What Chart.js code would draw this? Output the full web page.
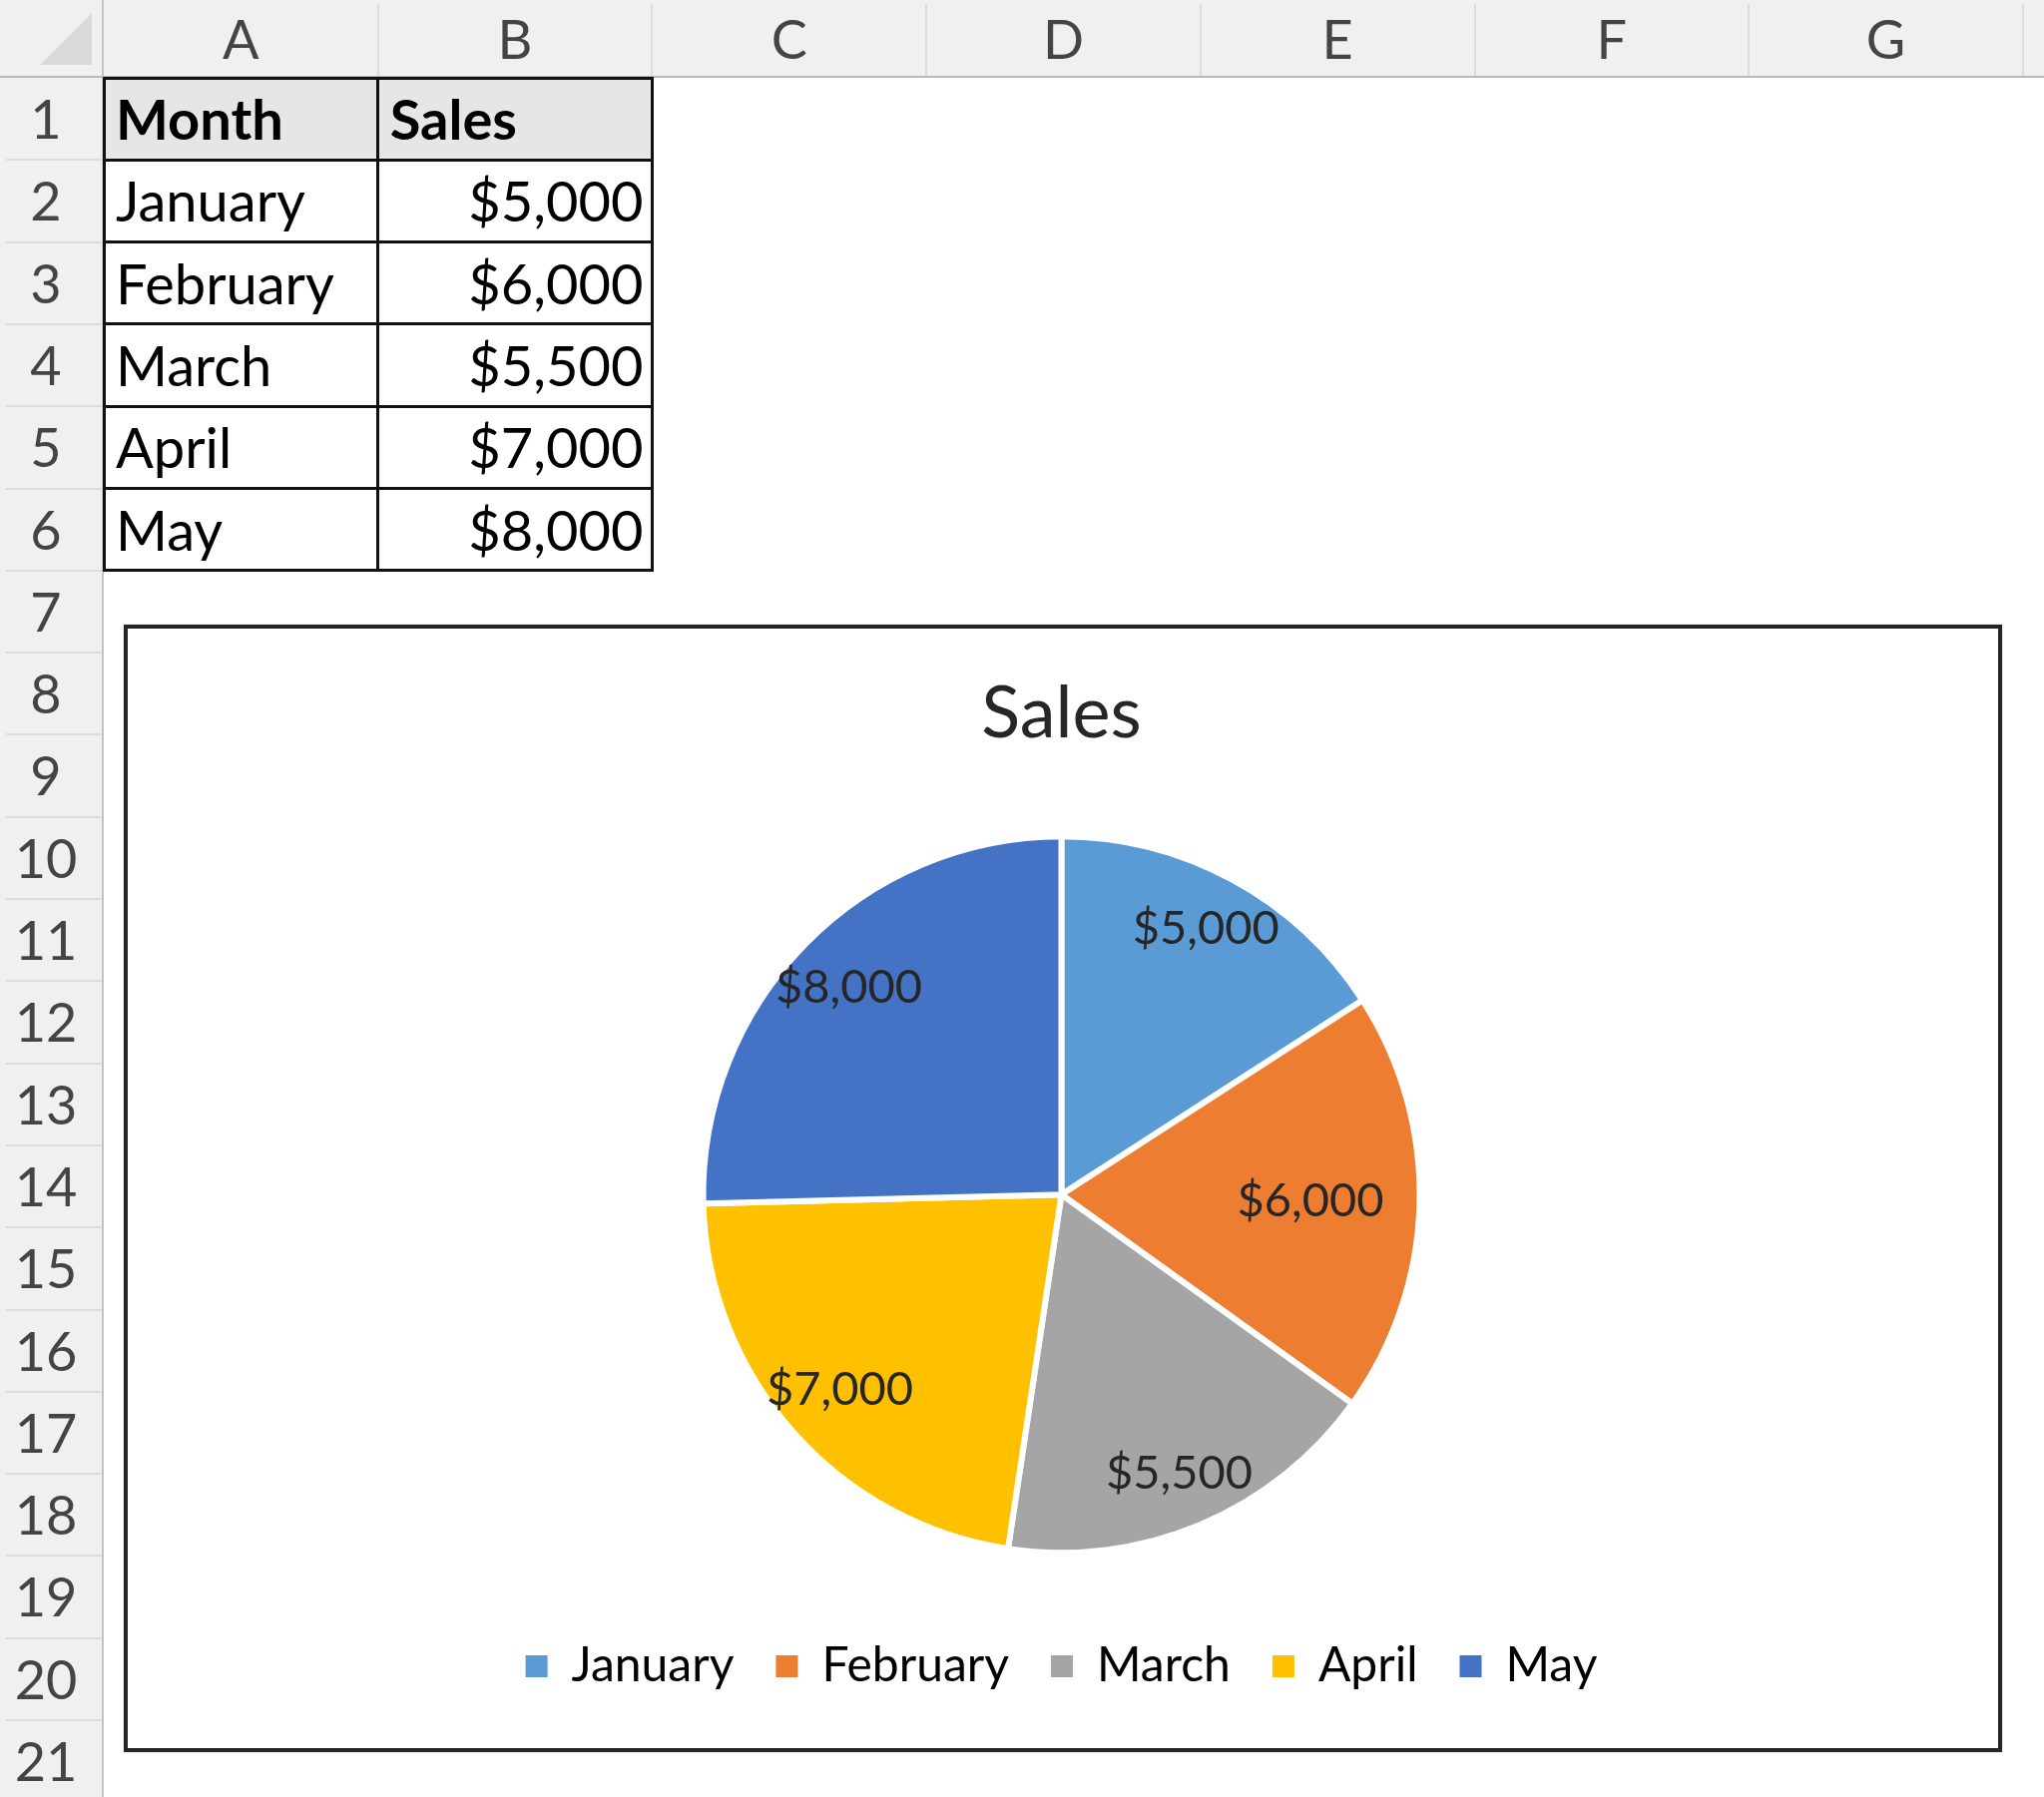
<!DOCTYPE html>
<html>
<head>
<meta charset="utf-8">
<script src="https://cdn.jsdelivr.net/npm/chart.js@4.4.1/dist/chart.umd.min.js"></script>
<style>
  html, body { margin: 0; padding: 0; background: #fff; }
  body { width: 2048px; height: 1801px; position: relative; overflow: hidden; font-family: Lato, "Open Sans", sans-serif; }
  .abs { position: absolute; box-sizing: border-box; }
  .hdr { background: #f0f0f0; }
  .hdr-text { color: #444; font-size: 54px; text-align: center; }
  .cell { font-size: 56px; color: #000; white-space: nowrap; }
  #chart-frame { left: 124px; top: 626px; width: 1882px; height: 1130px; border: 4px solid #262626; background: #fff; box-shadow: 0 0 1px #999; }
  #chart-box { position: absolute; left: 0; top: 0; width: 1874px; height: 1122px; }
</style>
</head>
<body>
<div id="sheet"></div>
<div id="chart-frame" class="abs"><div id="chart-box"><canvas id="salesChart"></canvas></div></div>

<script>
// sheet data
const columnLetters = ['A', 'B', 'C', 'D', 'E', 'F', 'G', 'H'];
const rowCount = 21;
const headers = ['Month', 'Sales'];
const months = ['January', 'February', 'March', 'April', 'May'];
const sales = [5000, 6000, 5500, 7000, 8000];
const sliceColors = ['#5B9BD5', '#ED7D31', '#A5A5A5', '#FFC000', '#4472C4'];
const chartTitle = 'Sales';

// grid geometry
const ROW_HEAD_W = 104;
const COL_HEAD_H = 78;
const COL_W = 274.7;
const ROW_H = 82.3;

const LABEL_SIZE = 47;

function money(v) {
    return '$' + v.toLocaleString('en-US');
}

function addDiv(cls, style, text) {
    const d = document.createElement('div');
    d.className = 'abs ' + (cls || '');
    Object.assign(d.style, style);
    if (text !== undefined) d.textContent = text;
    document.getElementById('sheet').appendChild(d);
    return d;
}

function buildSheet() {
    // header bars
    addDiv('hdr', { left: '0px', top: '0px', width: '2048px', height: COL_HEAD_H + 'px' });
    addDiv('hdr', { left: '0px', top: '0px', width: ROW_HEAD_W + 'px', height: '1801px' });

    // corner triangle
    addDiv('', { left: '40px', top: '13px', width: '52px', height: '52px',
        background: '#dadada', clipPath: 'polygon(100% 0, 100% 100%, 0 100%)' });

    // column letters + separators
    columnLetters.forEach((c, i) => {
        const left = ROW_HEAD_W + i * COL_W;
        addDiv('hdr-text', { left: left + 'px', top: '0px', width: COL_W + 'px', height: COL_HEAD_H + 'px',
            lineHeight: COL_HEAD_H + 'px' }, c);
        addDiv('', { left: (left + COL_W - 1) + 'px', top: '4px', width: '2px', height: (COL_HEAD_H - 4) + 'px', background: '#dcdcdc' });
    });

    // row numbers + separators
    for (let r = 1; r <= rowCount; r++) {
        const top = COL_HEAD_H + (r - 1) * ROW_H;
        addDiv('hdr-text', { left: '0px', top: top + 'px', width: '92px', height: ROW_H + 'px',
            lineHeight: ROW_H + 'px' }, String(r));
        addDiv('', { left: '6px', top: (top + ROW_H - 1) + 'px', width: (ROW_HEAD_W - 6) + 'px', height: '2px', background: '#dcdcdc' });
    }

    // header edges
    addDiv('', { left: '0px', top: (COL_HEAD_H - 2) + 'px', width: '2048px', height: '2px', background: '#b8b8b8' });
    addDiv('', { left: (ROW_HEAD_W - 2) + 'px', top: '0px', width: '2px', height: '1801px', background: '#c4c4c4' });

    // data table A1:B6
    const tableRows = [headers].concat(months.map((m, i) => [m, money(sales[i])]));
    tableRows.forEach((row, r) => {
        const top = COL_HEAD_H + r * ROW_H;
        row.forEach((val, c) => {
            const left = ROW_HEAD_W + c * COL_W;
            const style = { left: left + 'px', top: top + 'px', width: COL_W + 'px', height: ROW_H + 'px',
                lineHeight: ROW_H + 'px', padding: '0 9px 0 12px' };
            if (r === 0) { style.background = '#e7e6e6'; style.fontWeight = 'bold'; }
            if (r > 0 && c === 1) style.textAlign = 'right';
            addDiv('cell', style, val);
        });
    });
    const tblLeft = ROW_HEAD_W, tblTop = COL_HEAD_H;
    const tblW = COL_W * 2, tblH = ROW_H * tableRows.length;
    for (let r = 0; r <= tableRows.length; r++) {
        addDiv('', { left: (tblLeft - 1) + 'px', top: (tblTop + r * ROW_H - 1.5) + 'px', width: (tblW + 3) + 'px', height: '3px', background: '#111' });
    }
    for (let c = 0; c <= 2; c++) {
        addDiv('', { left: (tblLeft + c * COL_W - 1.5) + 'px', top: (tblTop - 1) + 'px', width: '3px', height: (tblH + 2) + 'px', background: '#111' });
    }
}

// data labels placed inside each slice, near the rim ("best fit" style)
const sliceLabels = {
    id: 'sliceLabels',
    afterDatasetsDraw(chart) {
        const ctx = chart.ctx;
        const meta = chart.getDatasetMeta(0);
        ctx.save();
        ctx.font = LABEL_SIZE + 'px Lato, "Open Sans", sans-serif';
        ctx.fillStyle = '#262626';
        ctx.textAlign = 'center';
        ctx.textBaseline = 'middle';
        meta.data.forEach((arc, i) => {
            const p = arc.getProps(['x', 'y', 'startAngle', 'endAngle', 'outerRadius'], true);
            const mid = (p.startAngle + p.endAngle) / 2;
            const ux = Math.cos(mid), uy = Math.sin(mid);
            const text = money(sales[i]);
            const hw = ctx.measureText(text).width / 2;
            const hh = LABEL_SIZE * 0.38;
            // distance from label centre to where the ray leaves the label box
            const exit = Math.min(Math.abs(ux) > 1e-6 ? hw / Math.abs(ux) : Infinity,
                                  Math.abs(uy) > 1e-6 ? hh / Math.abs(uy) : Infinity);
            const d = p.outerRadius * 0.9 - exit;
            ctx.fillText(text, p.x + ux * d, p.y + uy * d);
        });
        ctx.restore();
    }
};

function initChart() {
    const ctx = document.getElementById('salesChart');
    if (typeof Chart === 'undefined') {
        console.warn('Chart.js not loaded');
        return;
    }
    Chart.defaults.font.family = 'Lato, "Open Sans", sans-serif';
    Chart.defaults.color = '#262626';

    new Chart(ctx, {
        type: 'pie',
        data: {
            labels: months,
            datasets: [{
                data: sales,
                backgroundColor: sliceColors,
                borderColor: '#ffffff',
                borderWidth: 6,
                hoverOffset: 0,
                radius: 359
            }]
        },
        options: {
            responsive: true,
            maintainAspectRatio: false,
            animation: false,
            layout: { padding: { top: 0, bottom: 48, left: 0, right: 3 } },
            plugins: {
                title: {
                    display: true,
                    text: chartTitle,
                    color: '#262626',
                    font: { size: 72, weight: 'normal' },
                    padding: { top: 43, bottom: 31 }
                },
                legend: {
                    position: 'bottom',
                    labels: {
                        boxWidth: 22,
                        boxHeight: 22,
                        padding: 42,
                        color: '#262626',
                        font: { size: 48 },
                        generateLabels(chart) {
                            return chart.data.labels.map((label, i) => ({
                                text: label,
                                fillStyle: sliceColors[i],
                                strokeStyle: sliceColors[i],
                                lineWidth: 0,
                                hidden: false,
                                index: i
                            }));
                        }
                    }
                },
                tooltip: { enabled: false }
            }
        },
        plugins: [sliceLabels]
    });
}

document.addEventListener('DOMContentLoaded', () => {
    buildSheet();
    initChart();
});
</script>
</body>
</html>
